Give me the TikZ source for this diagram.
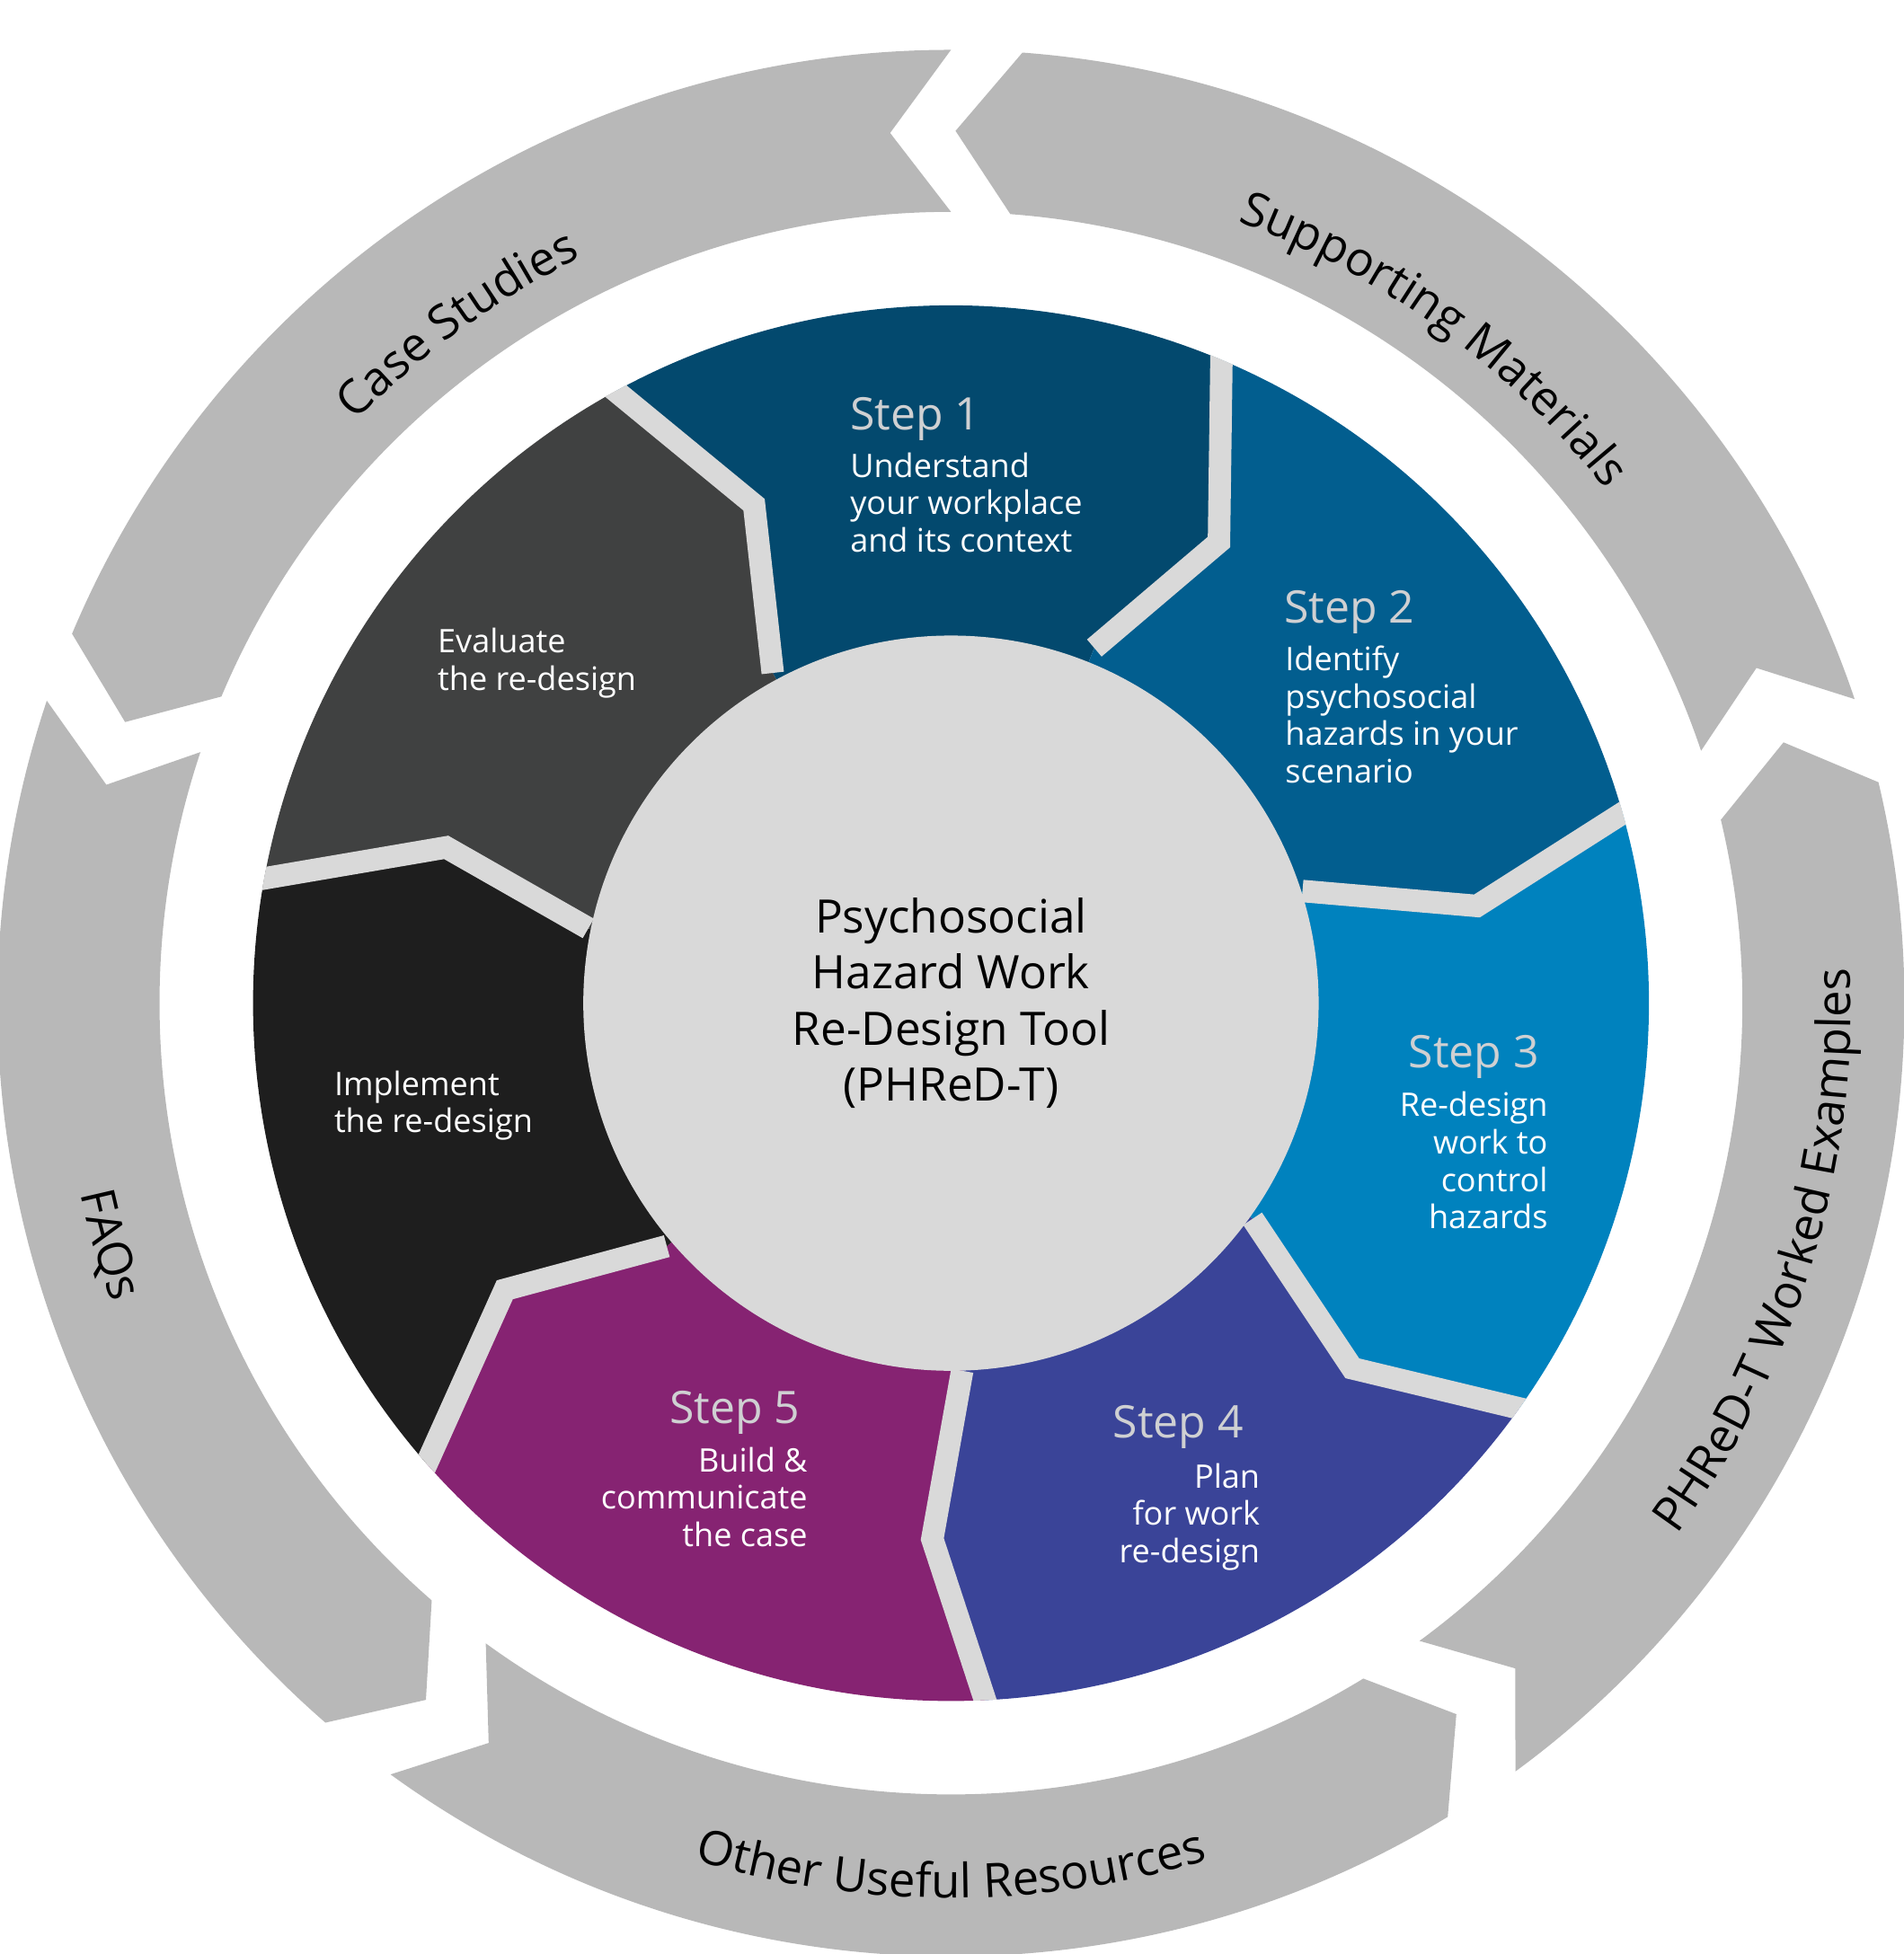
\documentclass[tikz,border=0pt]{standalone}
\usepackage{fontspec}
\setmainfont{Open Sans}
\usetikzlibrary{decorations.text,calc}
\definecolor{sepgray}{HTML}{D9D9D9}
\definecolor{ringgray}{HTML}{B8B8B8}
\definecolor{headgray}{HTML}{CFD0D2}
\definecolor{cone}{HTML}{03496E}
\definecolor{ctwo}{HTML}{025E8F}
\definecolor{cthree}{HTML}{0082BE}
\definecolor{cfour}{HTML}{3A4498}
\definecolor{cfive}{HTML}{862372}
\definecolor{cimpl}{HTML}{1E1E1E}
\definecolor{ceval}{HTML}{404141}
\newcommand\bodyfont{\fontsize{26}{30}\selectfont}
\newcommand\headfont{\fontsize{36}{40}\selectfont}
\newcommand\ringfont{\fontsize{38}{42}\selectfont}
\newcommand\ringseg[2]{%
  \fill[ringgray] (#1:765) arc[start angle=#1,end angle=#2,radius=765] -- ({#2+4}:700) -- (#2:635)
    arc[start angle=#2,end angle=#1,radius=635] -- ({#1+4}:700) -- cycle;}
\begin{document}
\begin{tikzpicture}[x=1pt,y=1pt,
  head/.style={inner sep=0pt,font=\headfont,text=headgray},
  body/.style={inner sep=0pt,font=\bodyfont,text=white},
  sep/.style={draw=sepgray,line width=18pt,line join=miter},
  ringtext/.style={decorate,decoration={text along path,text align=center,text={|\ringfont|#1}}}]
\useasboundingbox (-763,-763) rectangle (764,805);
% outer ring
\ringseg{18.6}{85.7}
\ringseg{90}{157.2}
\ringseg{161.5}{229}
\ringseg{234}{301.4}
\ringseg{306.3}{373.4}
\path[ringtext={Case Studies}] (150:668) arc[start angle=150,end angle=102,radius=668];
\path[ringtext={Supporting Materials}] (86:668) arc[start angle=86,end angle=22,radius=668];
\path[ringtext={PHReD-T Worked Examples}] (-50:722) arc[start angle=-50,end angle=16,radius=722];
\path[ringtext={Other Useful Resources}] (-123:718) arc[start angle=-123,end angle=-57,radius=718];
\path[ringtext={FAQs}] (180:715) arc[start angle=180,end angle=212,radius=715];
% segments
\coordinate (b1i) at (-143,265); \coordinate (b1k) at (-158,400); \coordinate (b1o) at (118.7:560);
\coordinate (b2i) at (115,285);  \coordinate (b2k) at (215,370);  \coordinate (b2o) at (67.2:560);
\coordinate (b3i) at (282,90);   \coordinate (b3k) at (422,78);   \coordinate (b3o) at (15.8:560);
\coordinate (b4i) at (242,-173); \coordinate (b4k) at (322,-293); \coordinate (b4o) at (-35.5:560);
\coordinate (b5i) at (9,-295);   \coordinate (b5k) at (-15,-430); \coordinate (b5o) at (-87.2:560);
\coordinate (b6i) at (-228,-195);\coordinate (b6k) at (-358,-230);\coordinate (b6o) at (-138.7:560);
\coordinate (b7i) at (-291,60);  \coordinate (b7k) at (-405,125); \coordinate (b7o) at (169.7:560);
\fill[cone] (0,0) -- (b1i) -- (b1k) -- (b1o) arc[start angle=118.7,end angle=67.2,radius=560] -- (b2k) -- (b2i) -- cycle;
\fill[ctwo] (0,0) -- (b2i) -- (b2k) -- (b2o) arc[start angle=67.2,end angle=15.8,radius=560] -- (b3k) -- (b3i) -- cycle;
\fill[cthree] (0,0) -- (b3i) -- (b3k) -- (b3o) arc[start angle=15.8,end angle=-35.5,radius=560] -- (b4k) -- (b4i) -- cycle;
\fill[cfour] (0,0) -- (b4i) -- (b4k) -- (b4o) arc[start angle=-35.5,end angle=-87.2,radius=560] -- (b5k) -- (b5i) -- cycle;
\fill[cfive] (0,0) -- (b5i) -- (b5k) -- (b5o) arc[start angle=-87.2,end angle=-138.7,radius=560] -- (b6k) -- (b6i) -- cycle;
\fill[cimpl] (0,0) -- (b6i) -- (b6k) -- (b6o) arc[start angle=-138.7,end angle=-190.3,radius=560] -- (b7k) -- (b7i) -- cycle;
\fill[ceval] (0,0) -- (b7i) -- (b7k) -- (b7o) arc[start angle=169.7,end angle=118.7,radius=560] -- (b1k) -- (b1i) -- cycle;
\begin{scope}
\clip (0,0) circle (560);
\foreach \i in {1,...,7}{
  \draw[sep] (b\i i) -- (b\i k) -- ($(b\i k)!1.4!(b\i o)$);
}
\end{scope}
\node[circle,fill=sepgray,minimum size=590pt,inner sep=0pt] (hub) at (0,0) {};
\node[inner sep=0pt,align=center,font=\fontsize{37}{45}\selectfont] (title) at (0,0) {Psychosocial\\Hazard Work\\Re-Design Tool\\(PHReD-T)};
% texts
\node[head,anchor=base west] (h1) at (-81,460) {Step 1};
\node[body,anchor=north west,align=left] (t1) at (-81,442) {Understand\\your workplace\\and its context};
\node[head,anchor=base west] (h2) at (267,305) {Step 2};
\node[body,anchor=north west,align=left] (t2) at (268,287) {Identify\\psychosocial\\hazards in your\\scenario};
\node[head,anchor=base east] (h3) at (472,-52) {Step 3};
\node[body,anchor=north east,align=right] (t3) at (479,-71) {Re-design\\work to\\control\\hazards};
\node[head,anchor=base east] (h4) at (235,-349) {Step 4};
\node[body,anchor=north east,align=right] (t4) at (248,-369) {Plan\\for work\\re-design};
\node[head,anchor=base east] (h5) at (-121,-337) {Step 5};
\node[body,anchor=north east,align=right] (t5) at (-115,-356) {Build \&\\communicate\\the case};
\node[body,anchor=north west,align=left] (t6) at (-495,-54) {Implement\\the re-design};
\node[body,anchor=north west,align=left] (t7) at (-412,301) {Evaluate\\the re-design};
\end{tikzpicture}
\end{document}
